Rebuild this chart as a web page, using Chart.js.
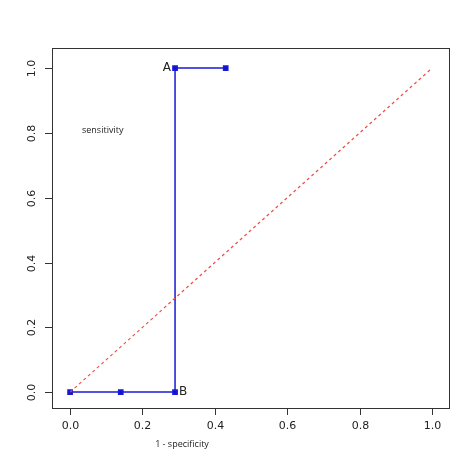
<!DOCTYPE html><html><head><style>body{margin:0;background:#fff}#w{position:absolute;left:0;top:0;width:474px;height:474px}</style>
<script src="https://cdn.jsdelivr.net/npm/chart.js@4"></script></head><body><div id="w"><canvas id="c"></canvas></div>
<script>
const rocX=[0,0.14,0.29,0.29,0.43];
const rocY=[0,0,0,1,1];
const diagX=[0,1];
const diagY=[0,1];
const ticks=[0,0.2,0.4,0.6,0.8,1.0];
const tickLabels=["0.0","0.2","0.4","0.6","0.8","1.0"];
const xTitle="1 - specificity";
const yNote="sensitivity";
const deco={id:'deco',afterDraw(ch){
 const c=ch.ctx,a=ch.chartArea,xs=ch.scales.x,ys=ch.scales.y;
 c.save();c.strokeStyle='#333';c.lineWidth=1;
 c.strokeRect(a.left+.5,a.top+.5,a.right-a.left,a.bottom-a.top);
 c.fillStyle='#222';c.font='11px "DejaVu Sans"';
 ticks.forEach((t,i)=>{
  const px=Math.round(xs.getPixelForValue(t))+.5;
  c.beginPath();c.moveTo(px,a.bottom);c.lineTo(px,a.bottom+7);c.stroke();
  c.textAlign='center';c.textBaseline='top';c.fillText(tickLabels[i],px,a.bottom+13);
  const py=Math.round(ys.getPixelForValue(t))+.5;
  c.beginPath();c.moveTo(a.left,py);c.lineTo(a.left-7,py);c.stroke();
  c.save();c.translate(a.left-14,py);c.rotate(-Math.PI/2);c.textAlign='center';c.textBaseline='bottom';c.fillText(tickLabels[i],0,0);c.restore();
 });
 c.font='9px "Open Sans"';c.textAlign='center';c.textBaseline='middle';
 c.fillText(xTitle,182,444);
 c.textAlign='left';c.fillText(yNote,82,130);
 c.font='12px "DejaVu Sans"';
 const ax=xs.getPixelForValue(rocX[3]),ay=ys.getPixelForValue(rocY[3]);
 c.textAlign='right';c.fillText('A',ax-4,ay);
 const bx=xs.getPixelForValue(rocX[2]),by=ys.getPixelForValue(rocY[2]);
 c.textAlign='left';c.fillText('B',bx+4,by);
 c.restore();}};
new Chart(document.getElementById('c'),{type:'scatter',
 data:{datasets:[
  {data:diagX.map((x,i)=>({x,y:diagY[i]})),showLine:true,borderColor:'#e8504a',borderDash:[3,3],borderWidth:1.2,pointRadius:0},
  {data:rocX.map((x,i)=>({x,y:rocY[i]})),showLine:true,borderColor:'#1a1ad8',backgroundColor:'#1010d0',borderWidth:1.5,pointStyle:'rect',pointRadius:3}]},
 options:{responsive:true,maintainAspectRatio:false,animation:false,
  layout:{padding:{left:52,top:48,right:25,bottom:66}},
  plugins:{legend:{display:false},tooltip:{enabled:false}},
  scales:{x:{display:false,min:-0.05,max:1.047},y:{display:false,min:-0.049,max:1.062}}},
 plugins:[deco]});
</script></body></html>
